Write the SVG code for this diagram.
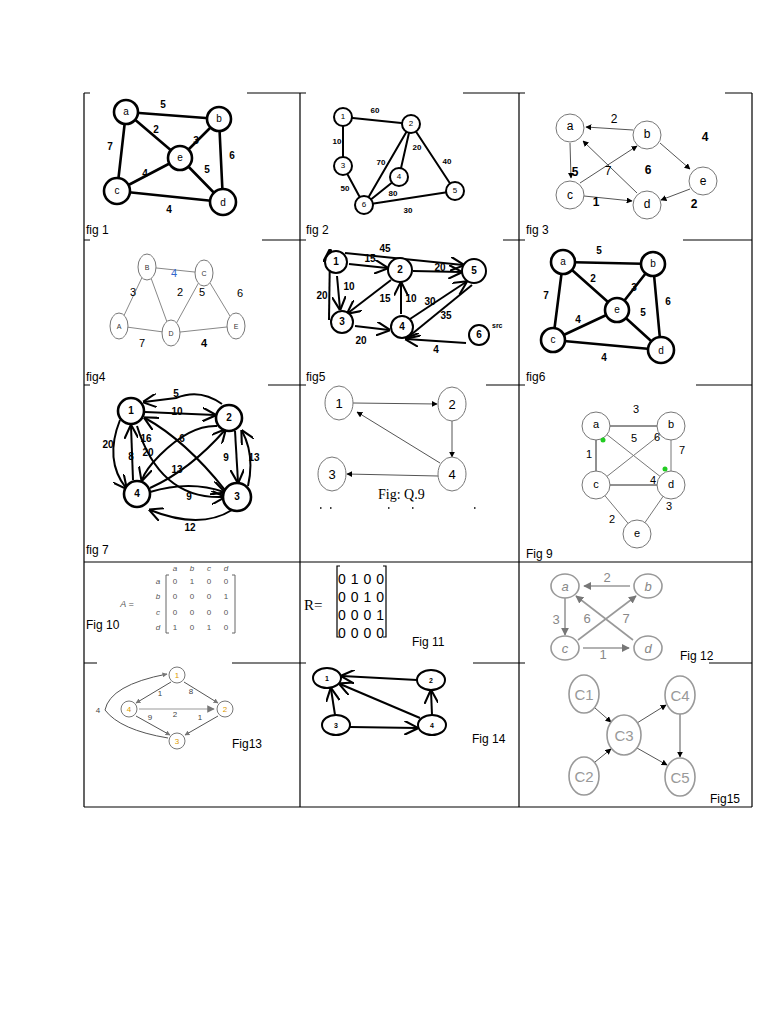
<svg xmlns="http://www.w3.org/2000/svg" width="768" height="1024" viewBox="0 0 768 1024">
<style>
text{font-family:"Liberation Sans",Arial,sans-serif;}
.g{stroke:#000;stroke-width:1.2;fill:none}
.cap{font-size:12px;fill:#000}
.k{fill:#fff;stroke:#000;stroke-width:2.6}
.e3{stroke:#000;stroke-width:2.6;fill:none}
.l{font-size:10px;font-weight:bold;fill:#000;text-anchor:middle}
.n{font-size:10px;fill:#000;text-anchor:middle;dominant-baseline:middle}
.t{fill:#fff;stroke:#777;stroke-width:1}
.e1{stroke:#555;stroke-width:1;fill:none}
.gr{fill:#fff;stroke:#999;stroke-width:1.6}
.eg{stroke:#999;stroke-width:1.6;fill:none}
.sf{font-family:"Liberation Serif",serif}
</style>
<defs>
<marker id="ab" viewBox="0 0 10 10" refX="9" refY="5" markerWidth="6" markerHeight="6" orient="auto"><path d="M0,0L10,5L0,10z" fill="#000"/></marker>
<marker id="ao" viewBox="0 0 10 10" refX="9" refY="5" markerWidth="7" markerHeight="7" orient="auto"><path d="M0,0L10,5L0,10" fill="none" stroke="#000" stroke-width="1.5"/></marker>
<marker id="ag" viewBox="0 0 10 10" refX="9" refY="5" markerWidth="5" markerHeight="5" orient="auto"><path d="M0,0L10,5L0,10z" fill="#777"/></marker>
</defs>
<rect width="768" height="1024" fill="#fff"/>
<g id="grid" class="g">
<path d="M84,93H90M247,93H306M463,93H525M725,93H752M84,240H90M262,240H306M503,240H525M683,240H752M84,385H90M268,385H306M486,385H525M696,385H752M84,562H752M84,663H97M232,663H306M473,663H525M709,663H752M84,807H752M84,93V807M300,93V807M519,93V807M752,93V807"/>
</g>
<g id="captions" class="cap">
<text x="86" y="234">fig 1</text><text x="306" y="234">fig 2</text><text x="526" y="234">fig 3</text>
<text x="86" y="381">fig4</text><text x="306" y="381">fig5</text><text x="526" y="381">fig6</text>
<text x="86" y="554">fig 7</text><text x="526" y="558">Fig 9</text>
<text x="86" y="629">Fig 10</text><text x="412" y="646">Fig 11</text><text x="680" y="660">Fig 12</text>
<text x="232" y="748">Fig13</text><text x="472" y="743">Fig 14</text><text x="710" y="803">Fig15</text>
</g>
<g id="connectors">
<path class="e3" d="M126,112L219,119M126,112L180,158M219,119L180,158M126,112L117,191M219,119L223,202M180,158L117,191M180,158L223,202M117,191L223,202"/>
<path class="e3" style="stroke-width:2" d="M343,117L411,124M343,117L343,166M343,166L364,205M411,124L364,205M411,124L399,177M399,177L364,205M411,124L455,191M364,205L455,191"/>
<path class="e1" d="M633,130L586,127" marker-end="url(#ab)"/>
<path class="e1" d="M570,143L571,178" marker-end="url(#ab)"/>
<path class="e1" d="M580,183L637,146" marker-end="url(#ab)"/>
<path class="e1" d="M637,193L583,141" marker-end="url(#ab)"/>
<path class="e1" d="M660,143L690,169" marker-end="url(#ab)"/>
<path class="e1" d="M690,189L661,200" marker-end="url(#ab)"/>
<path class="e1" stroke-width="1.6" d="M584,196L632,201" marker-end="url(#ab)"/>
<path stroke="#888" fill="none" d="M147,267L204,273M147,267L119,326M147,267L171,333M204,273L171,333M204,273L236,326M119,326L171,333M171,333L236,326"/>
<g class="e3" style="stroke-width:2">
<path d="M345,253L463,265" marker-end="url(#ao)"/>
<path d="M349,264L387,268" marker-end="url(#ao)"/>
<path d="M413,271L461,272" marker-end="url(#ao)"/>
<path d="M337,276L340,309" marker-end="url(#ao)"/>
<path d="M329,320L330,250" marker-end="url(#ao)"/>
<path d="M391,280L348,313" marker-end="url(#ao)"/>
<path d="M401,314L401,283" marker-end="url(#ao)"/>
<path d="M410,319L466,282" marker-end="url(#ao)"/>
<path d="M472,285L407,338" marker-end="url(#ao)"/>
<path d="M355,326L389,330" marker-end="url(#ao)"/>
<path d="M466,343L406,339" marker-end="url(#ao)"/>
</g>
<path class="e3" d="M563,262L653,264M563,262L617,310M653,264L617,310M563,262L553,340M653,264L661,350M617,310L553,340M617,310L661,350M553,340L661,350"/>
<g class="e3" style="stroke-width:2">
<path d="M222,404Q200,388 176,398Q160,400 144,402" marker-end="url(#ao)"/>
<path d="M145,412L215,415" marker-end="url(#ao)"/>
<path d="M120,420Q104,460 126,488" marker-end="url(#ao)"/>
<path d="M133,480L131,426" marker-end="url(#ao)"/>
<path d="M137,426Q160,500 224,497" marker-end="url(#ao)"/>
<path d="M217,426Q190,425 160,455Q145,470 142,480" marker-end="url(#ao)"/>
<path d="M225,490Q185,440 145,418" marker-end="url(#ao)"/>
<path d="M150,488Q190,470 225,430" marker-end="url(#ao)"/>
<path d="M235,431L238,482" marker-end="url(#ao)"/>
<path d="M248,486Q255,455 242,431" marker-end="url(#ao)"/>
<path d="M150,492Q190,480 224,492" marker-end="url(#ao)"/>
<path d="M232,510Q200,530 150,510" marker-end="url(#ao)"/>
</g>
<path class="e1" d="M353,403L437,404" marker-end="url(#ab)"/>
<path class="e1" d="M452,421L452,457" marker-end="url(#ab)"/>
<path class="e1" d="M440,463L357,412" marker-end="url(#ab)"/>
<path class="e1" d="M438,476L347,474" marker-end="url(#ab)"/>
<path stroke="#222" fill="none" d="M596,426L671,426M596,426L596,485M596,485L671,485"/>
<path stroke="#777" fill="none" d="M596,426L671,485M671,426L596,485M671,426L671,485M596,485L637,534M671,485L637,534"/>
<path class="eg" d="M630,586L584,586" marker-end="url(#ag)"/>
<path class="eg" d="M565,598L565,635" marker-end="url(#ag)"/>
<path class="eg" d="M633,640L576,596" marker-end="url(#ag)"/>
<path class="eg" d="M578,640L636,596" marker-end="url(#ag)"/>
<path class="eg" d="M583,648L629,648" marker-end="url(#ag)"/>
<path class="e1" stroke="#777" d="M171,682L136,703" marker-end="url(#ag)"/>
<path class="e1" stroke="#777" d="M184,682L218,703" marker-end="url(#ag)"/>
<path stroke="#bbb" stroke-width="1.5" d="M139,709L214,709" marker-end="url(#ag)"/>
<path class="e1" stroke="#777" d="M136,716L170,735" marker-end="url(#ag)"/>
<path class="e1" stroke="#777" d="M218,716L185,735" marker-end="url(#ag)"/>
<path class="e1" stroke="#777" d="M168,738Q120,730 105,710Q110,685 167,674" marker-end="url(#ag)"/>
<g class="e3" style="stroke-width:2">
<path d="M417,680L342,676" marker-end="url(#ao)"/>
<path d="M335,715L331,689" marker-end="url(#ao)"/>
<path d="M420,718L340,684" marker-end="url(#ao)"/>
<path d="M432,715L431,691" marker-end="url(#ao)"/>
<path d="M350,727L417,728" marker-end="url(#ao)"/>
</g>
<path class="e1" stroke="#666" d="M595,708L611,722" marker-end="url(#ab)"/>
<path class="e1" stroke="#666" d="M595,762L611,749" marker-end="url(#ab)"/>
<path class="e1" stroke="#666" d="M637,723L666,705" marker-end="url(#ab)"/>
<path class="e1" stroke="#666" d="M637,748L667,765" marker-end="url(#ab)"/>
<path class="e1" stroke="#999" d="M680,714L680,757" marker-end="url(#ab)"/>
</g>
<g id="fig1">
<circle class="k" cx="126" cy="112" r="12"/><circle class="k" cx="219" cy="119" r="12"/><circle class="k" cx="180" cy="158" r="12"/><circle class="k" cx="117" cy="191" r="13"/><circle class="k" cx="223" cy="202" r="13"/>
<text class="n" x="126" y="112">a</text><text class="n" x="219" y="119">b</text><text class="n" x="180" y="158">e</text><text class="n" x="117" y="191">c</text><text class="n" x="223" y="203">d</text>
<text class="l" x="163" y="108">5</text><text class="l" x="156" y="133">2</text><text class="l" x="196" y="144">3</text><text class="l" x="110" y="150">7</text><text class="l" x="232" y="159">6</text><text class="l" x="145" y="177">4</text><text class="l" x="207" y="173">5</text><text class="l" x="169" y="213">4</text>
</g>
<g id="fig2">
<circle class="k" style="stroke-width:2" cx="343" cy="117" r="9"/><circle class="k" style="stroke-width:2" cx="411" cy="124" r="9"/><circle class="k" style="stroke-width:2" cx="343" cy="166" r="9"/><circle class="k" style="stroke-width:2" cx="399" cy="177" r="9"/><circle class="k" style="stroke-width:2" cx="455" cy="191" r="9"/><circle class="k" style="stroke-width:2" cx="364" cy="205" r="9"/>
<text class="n" x="343" y="117" style="font-size:8px">1</text><text class="n" x="411" y="124" style="font-size:8px">2</text><text class="n" x="343" y="166" style="font-size:8px">3</text><text class="n" x="399" y="177" style="font-size:8px">4</text><text class="n" x="455" y="191" style="font-size:8px">5</text><text class="n" x="364" y="205" style="font-size:8px">6</text>
<text class="l" style="font-size:8px" x="375" y="113">60</text><text class="l" style="font-size:8px" x="337" y="144">10</text><text class="l" style="font-size:8px" x="345" y="191">50</text><text class="l" style="font-size:8px" x="381" y="165">70</text><text class="l" style="font-size:8px" x="417" y="150">20</text><text class="l" style="font-size:8px" x="393" y="196">80</text><text class="l" style="font-size:8px" x="447" y="164">40</text><text class="l" style="font-size:8px" x="408" y="213">30</text>
</g>
<g id="fig3">
<circle class="t" cx="570" cy="128" r="14"/><circle class="t" cx="647" cy="135" r="14"/><circle class="t" cx="570" cy="195" r="14"/><circle class="t" cx="647" cy="205" r="14"/><circle class="t" cx="703" cy="181" r="14"/>
<g class="sf" style="font-size:12px" text-anchor="middle"><text x="570" y="130">a</text><text x="647" y="138">b</text><text x="570" y="199">c</text><text x="647" y="208">d</text><text x="703" y="185">e</text>
<text x="614" y="123">2</text><text x="608" y="175">7</text><text x="575" y="176" font-weight="bold">5</text><text x="648" y="174" font-weight="bold">6</text><text x="596" y="206" font-weight="bold">1</text><text x="705" y="141" font-weight="bold">4</text><text x="694" y="208" font-weight="bold">2</text></g>
</g>
<g id="fig4">
<ellipse cx="147" cy="267" rx="9" ry="13" class="t"/><ellipse cx="204" cy="273" rx="9" ry="13" class="t"/><ellipse cx="119" cy="326" rx="9" ry="13" class="t"/><ellipse cx="171" cy="333" rx="9" ry="13" class="t"/><ellipse cx="236" cy="326" rx="9" ry="13" class="t"/>
<g style="font-size:7px;fill:#333" text-anchor="middle"><text x="147" y="270">B</text><text x="204" y="276">C</text><text x="119" y="329">A</text><text x="171" y="336">D</text><text x="236" y="329">E</text></g>
<g class="sf" style="font-size:11px" text-anchor="middle"><text x="174" y="277" fill="#36c">4</text><text x="133" y="296">3</text><text x="180" y="296">2</text><text x="202" y="296">5</text><text x="240" y="297">6</text><text x="142" y="347">7</text><text x="204" y="347" font-weight="bold">4</text></g>
</g>
<g id="fig5">
<circle class="k" style="stroke-width:2" cx="336" cy="262" r="11"/><circle class="k" style="stroke-width:2" cx="400" cy="270" r="12"/><circle class="k" style="stroke-width:2" cx="474" cy="271" r="12"/><circle class="k" style="stroke-width:2" cx="342" cy="322" r="11"/><circle class="k" style="stroke-width:2" cx="402" cy="327" r="11"/><circle class="k" style="stroke-width:2" cx="479" cy="335" r="10"/>
<text class="n" x="336" y="262" font-weight="bold">1</text><text class="n" x="400" y="270" font-weight="bold">2</text><text class="n" x="474" y="271" font-weight="bold">5</text><text class="n" x="342" y="322" font-weight="bold">3</text><text class="n" x="402" y="327" font-weight="bold">4</text><text class="n" x="479" y="335" font-weight="bold">6</text>
<text x="492" y="328" style="font-size:7px;font-weight:bold">src</text>
<text class="l" x="385" y="252">45</text><text class="l" x="370" y="262">15</text><text class="l" x="440" y="271">20</text><text class="l" x="349" y="290">10</text><text class="l" x="322" y="299">20</text><text class="l" x="385" y="302">15</text><text class="l" x="411" y="302">10</text><text class="l" x="430" y="305">30</text><text class="l" x="446" y="319">35</text><text class="l" x="361" y="344">20</text><text class="l" x="436" y="353">4</text>
</g>
<g id="fig6">
<circle class="k" cx="563" cy="262" r="12"/><circle class="k" cx="653" cy="264" r="12"/><circle class="k" cx="617" cy="310" r="12"/><circle class="k" cx="553" cy="340" r="12"/><circle class="k" cx="661" cy="350" r="13"/>
<text class="n" x="563" y="262">a</text><text class="n" x="653" y="264">b</text><text class="n" x="617" y="310">e</text><text class="n" x="553" y="340">c</text><text class="n" x="661" y="351">d</text>
<text class="l" x="599" y="254">5</text><text class="l" x="593" y="282">2</text><text class="l" x="634" y="291">3</text><text class="l" x="546" y="299">7</text><text class="l" x="668" y="305">6</text><text class="l" x="578" y="323">4</text><text class="l" x="643" y="316">5</text><text class="l" x="604" y="361">4</text>
</g>
<g id="fig7">
<circle class="k" cx="131" cy="411" r="13"/><circle class="k" cx="229" cy="418" r="13"/><circle class="k" cx="137" cy="494" r="13"/><circle class="k" cx="237" cy="497" r="14"/>
<text class="n" x="131" y="411" font-weight="bold">1</text><text class="n" x="229" y="418" font-weight="bold">2</text><text class="n" x="137" y="494" font-weight="bold">4</text><text class="n" x="237" y="497" font-weight="bold">3</text>
<text class="l" x="176" y="397">5</text><text class="l" x="177" y="415">10</text><text class="l" x="108" y="448">20</text><text class="l" x="131" y="460">8</text><text class="l" x="146" y="442">16</text><text class="l" x="148" y="456">20</text><text class="l" x="182" y="442">6</text><text class="l" x="177" y="473">13</text><text class="l" x="226" y="461">9</text><text class="l" x="254" y="461">13</text><text class="l" x="189" y="500">9</text><text class="l" x="190" y="531">12</text>
</g>
<g id="figQ9">
<ellipse class="t" cx="339" cy="403" rx="14" ry="17"/><ellipse class="t" cx="452" cy="404" rx="14" ry="17"/><ellipse class="t" cx="452" cy="474" rx="14" ry="17"/><ellipse class="t" cx="332" cy="474" rx="14" ry="17"/>
<g class="sf" style="font-size:13px" text-anchor="middle"><text x="339" y="408">1</text><text x="452" y="409">2</text><text x="452" y="479">4</text><text x="332" y="479">3</text></g>
<text class="sf" x="378" y="499" style="font-size:14px">Fig: Q.9</text>
<path d="M320,508h1.5M330,508h1.5M388,508h1.5M412,508h1.5M474,508h1.5" stroke="#000" stroke-width="1.5"/>
</g>
<g id="fig9">
<circle class="t" cx="596" cy="426" r="14"/><circle class="t" cx="671" cy="426" r="14"/><circle class="t" cx="596" cy="485" r="14"/><circle class="t" cx="671" cy="485" r="14"/><circle class="t" cx="637" cy="534" r="14"/>
<circle cx="603" cy="440" r="2.5" fill="#2c2"/><circle cx="665" cy="469" r="2.5" fill="#2c2"/>
<g class="sf" style="font-size:11px" text-anchor="middle"><text x="596" y="428">a</text><text x="671" y="428">b</text><text x="596" y="488">c</text><text x="671" y="488">d</text><text x="637" y="537">e</text>
<text x="636" y="413">3</text><text x="589" y="458">1</text><text x="634" y="442">5</text><text x="657" y="441">6</text><text x="682" y="454">7</text><text x="653" y="484">4</text><text x="612" y="523">2</text><text x="669" y="510">3</text></g>
</g>
<g id="fig10" style="font-size:8px;font-style:italic;fill:#555" text-anchor="middle">
<text x="127" y="607" style="font-size:9px">A =</text>
<text x="175" y="571">a</text><text x="192" y="571">b</text><text x="209" y="571">c</text><text x="226" y="571">d</text>
<text x="158" y="584">a</text><text x="158" y="599">b</text><text x="158" y="615">c</text><text x="158" y="630">d</text>
<g style="font-style:normal"><text x="175" y="584">0</text><text x="192" y="584">1</text><text x="209" y="584">0</text><text x="226" y="584">0</text>
<text x="175" y="599">0</text><text x="192" y="599">0</text><text x="209" y="599">0</text><text x="226" y="599">1</text>
<text x="175" y="615">0</text><text x="192" y="615">0</text><text x="209" y="615">0</text><text x="226" y="615">0</text>
<text x="175" y="630">1</text><text x="192" y="630">0</text><text x="209" y="630">1</text><text x="226" y="630">0</text></g>
<path d="M169,575h-3v58h3M232,575h3v58h-3" fill="none" stroke="#666"/>
</g>
<g id="fig11">
<text class="sf" x="304" y="610" style="font-size:15px">R=</text>
<path d="M340,566h-3v71h3M383,566h3v71h-3" fill="none" stroke="#000" stroke-width="1.2"/>
<g class="sf" style="font-size:14px"><text x="338" y="584" textLength="46">0 1 0 0</text><text x="338" y="602" textLength="46">0 0 1 0</text><text x="338" y="620" textLength="46">0 0 0 1</text><text x="338" y="638" textLength="46">0 0 0 0</text></g>
</g>
<g id="fig12">
<ellipse class="gr" cx="565" cy="586" rx="14" ry="12"/><ellipse class="gr" cx="648" cy="586" rx="14" ry="12"/><ellipse class="gr" cx="565" cy="648" rx="14" ry="12"/><ellipse class="gr" cx="648" cy="648" rx="14" ry="12"/>
<g style="font-size:13px;font-style:italic;fill:#888" text-anchor="middle"><text x="565" y="591">a</text><text x="648" y="591">b</text><text x="565" y="653">c</text><text x="648" y="653">d</text></g>
<g style="font-size:13px;fill:#888" text-anchor="middle"><text x="607" y="582">2</text><text x="556" y="624">3</text><text x="587" y="623">6</text><text x="626" y="623">7</text><text x="603" y="659">1</text></g>
</g>
<g id="fig13">
<circle class="t" cx="177" cy="675" r="8"/><circle class="t" cx="129" cy="709" r="8"/><circle class="t" cx="225" cy="709" r="8"/><circle class="t" cx="177" cy="741" r="8"/>
<g style="font-size:8px;fill:#d90" text-anchor="middle"><text x="177" y="678">1</text><text x="129" y="712">4</text><text x="225" y="712">2</text><text x="177" y="744">3</text></g>
<g style="font-size:8px;fill:#444" text-anchor="middle"><text x="160" y="696">1</text><text x="191" y="694">8</text><text x="175" y="717">2</text><text x="150" y="720">9</text><text x="200" y="720">1</text><text x="98" y="713">4</text></g>
</g>
<g id="fig14">
<ellipse class="k" style="stroke-width:2" cx="327" cy="678" rx="14" ry="10"/><ellipse class="k" style="stroke-width:2" cx="431" cy="680" rx="14" ry="10"/><ellipse class="k" style="stroke-width:2" cx="336" cy="725" rx="14" ry="10"/><ellipse class="k" style="stroke-width:2" cx="432" cy="725" rx="14" ry="10"/>
<g style="font-size:7px;font-weight:bold" text-anchor="middle"><text x="327" y="681">1</text><text x="431" y="683">2</text><text x="336" y="728">3</text><text x="432" y="728">4</text></g>
</g>
<g id="fig15">
<ellipse class="gr" cx="584" cy="694" rx="15" ry="19"/><ellipse class="gr" cx="680" cy="695" rx="15" ry="19"/><ellipse class="gr" cx="624" cy="735" rx="17" ry="20"/><ellipse class="gr" cx="584" cy="776" rx="15" ry="19"/><ellipse class="gr" cx="680" cy="777" rx="15" ry="19"/>
<g style="font-size:15px;fill:#999" text-anchor="middle"><text x="584" y="700">C1</text><text x="680" y="701">C4</text><text x="624" y="741">C3</text><text x="584" y="782">C2</text><text x="680" y="783">C5</text></g>
</g>
</svg>
